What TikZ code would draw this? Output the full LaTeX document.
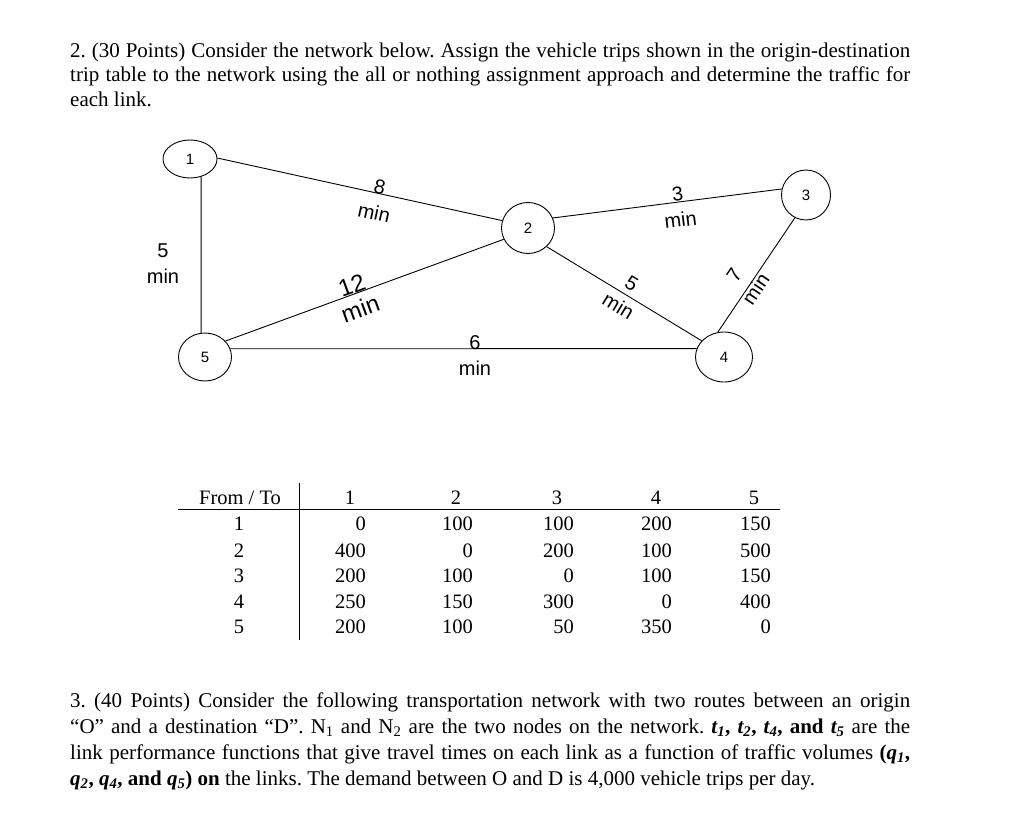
\documentclass[tikz,border=0pt]{standalone}
\usepackage{fontspec}
\setmainfont{Liberation Serif}
\newfontfamily\arialfont{Liberation Sans}
\usetikzlibrary{shapes.geometric}
\tikzset{
  txt/.style={anchor=base west, inner sep=0pt, font=\fontsize{21}{25}\selectfont\frenchspacing},
  nd/.style={ellipse, draw, line width=0.9pt, inner sep=0pt, font=\arialfont\fontsize{15}{15}\selectfont},
  ln/.style={line width=0.9pt},
  lbl/.style={align=center, inner sep=0pt, font=\arialfont\fontsize{20}{26}\selectfont},
  th/.style={anchor=base, inner sep=0pt, font=\fontsize{20.5}{24}\selectfont},
  td/.style={anchor=base east, inner sep=0pt, font=\fontsize{20.5}{24}\selectfont},
  rl/.style={line width=0.9pt}
}
\begin{document}
\begin{tikzpicture}[x=1pt,y=-1pt]
\useasboundingbox (0,0) rectangle (1024,824);
\fill[white] (0,0) rectangle (1024,824);

% question 2 text
\node[txt] (p2a) at (70,57.5) {\makebox[840pt][s]{2. (30 Points) Consider the network below. Assign the vehicle trips shown in the origin-destination}};
\node[txt] (p2b) at (70,82) {\makebox[840pt][s]{trip table to the network using the all or nothing assignment approach and determine the traffic for}};
\node[txt] (p2c) at (70,106.5) {each link.};

% network nodes
\node[nd, minimum width=54pt, minimum height=38pt] (n1) at (190,159) {1};
\node[nd, minimum width=53pt, minimum height=51pt] (n2) at (528,228) {2};
\node[nd, minimum width=49pt, minimum height=50pt] (n3) at (806,195) {3};
\node[nd, minimum width=57pt, minimum height=50pt] (n4) at (724,357) {4};
\node[nd, minimum width=53pt, minimum height=48pt] (n5) at (205,357) {5};

% links
\draw[ln] (n1.2) -- (n2.164);
\draw[ln] (n1.-58) -- (n5.99);
\draw[ln] (n5.38) -- (n2.205);
\draw[ln] (n5.18) -- (n4.163);
\draw[ln] (n2.22) -- (n3.166);
\draw[ln] (n2.-45) -- (n4.144);
\draw[ln] (n4.104) -- (n3.244);

% link labels
\node[lbl] (l15) at (163,264) {5\\min};
\node[lbl, rotate=-12.4] (l12) at (377,200) {8\\min};
\node[lbl, font=\arialfont\fontsize{24}{25}\selectfont, rotate=20] (l52) at (356,297) {12\\min};
\node[lbl] (l54) at (475,356) {6\\min};
\node[lbl, rotate=7] (l23) at (679,207) {3\\min};
\node[lbl, rotate=-31] (l24) at (625,295) {5\\min};
\node[lbl, rotate=56] (l43) at (745,282) {7\\min};

% table
\draw[rl] (178,509) -- (780,509);
\draw[rl] (299,483) -- (299,640);
\node[th] (h0) at (240,504.5) {From / To};
\node[th] (h1) at (350,504.5) {1};
\node[th] (h2) at (456,504.5) {2};
\node[th] (h3) at (557,504.5) {3};
\node[th] (h4) at (656,504.5) {4};
\node[th] (h5) at (754,504.5) {5};
\foreach \r/\y/\a/\b/\c/\d/\e in {1/530.5/0/100/100/200/150, 2/557/400/0/200/100/500, 3/582.5/200/100/0/100/150, 4/608/250/150/300/0/400, 5/633.5/200/100/50/350/0}{
  \node[th] (r\r) at (239,\y) {\r};
  \node[td] (c\r-1) at (366,\y) {\a};
  \node[td] (c\r-2) at (473,\y) {\b};
  \node[td] (c\r-3) at (574,\y) {\c};
  \node[td] (c\r-4) at (672,\y) {\d};
  \node[td] (c\r-5) at (771,\y) {\e};
}

% question 3 text
\node[txt] (p3a) at (70,707) {\makebox[840pt][s]{3. (40 Points) Consider the following transportation network with two routes between an origin}};
\node[txt] (p3b) at (70,733) {\makebox[840pt][s]{“O” and a destination “D”. N\textsubscript{1} and N\textsubscript{2} are the two nodes on the network. \textbf{\textit{t\textsubscript{1}}, \textit{t\textsubscript{2}}, \textit{t\textsubscript{4}}, and \textit{t\textsubscript{5}}} are the}};
\node[txt] (p3c) at (70,759) {\makebox[840pt][s]{link performance functions that give travel times on each link as a function of traffic volumes \textbf{(\textit{q\textsubscript{1}},}}};
\node[txt] (p3d) at (70,785.5) {\textbf{\textit{q\textsubscript{2}}, \textit{q\textsubscript{4}}, and \textit{q\textsubscript{5}}) on} the links. The demand between O and D is 4,000 vehicle trips per day.};
\end{tikzpicture}
\end{document}
